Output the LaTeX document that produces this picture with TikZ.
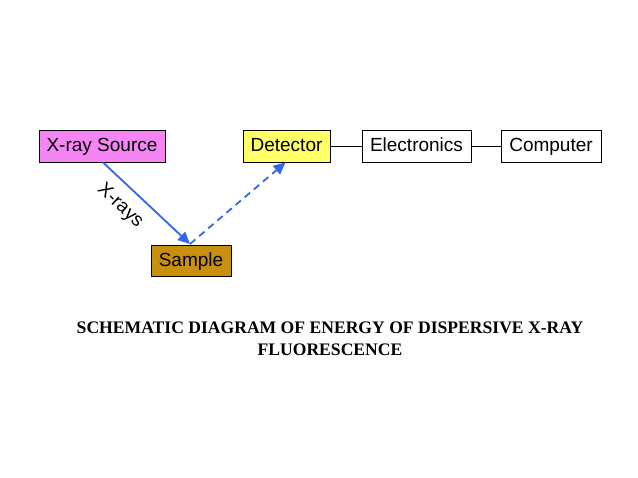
\documentclass[tikz,border=0pt]{standalone}
\usepackage{fontspec}
\setmainfont{Liberation Sans}
\newfontfamily\tnr{Liberation Serif}
\usetikzlibrary{arrows.meta}
\definecolor{pinkbox}{HTML}{F585F5}
\definecolor{yelbox}{HTML}{FFFF66}
\definecolor{ochre}{HTML}{C99010}
\definecolor{ablue}{HTML}{3366EE}
\begin{document}
\begin{tikzpicture}[x=1pt,y=-1pt,
  box/.style={draw=black,line width=0.8pt,minimum height=32pt,inner sep=0pt,text height=15pt,text depth=3pt,font=\fontsize{19}{22}\selectfont},
  ray/.style={ablue,line width=1.8pt,-{Triangle[length=12pt,width=11pt]}}]
\useasboundingbox (0,0) rectangle (638,478);
\node[box,fill=pinkbox,minimum width=126pt] (src) at (102,146) {X-ray Source};
\node[box,fill=yelbox,minimum width=87pt] (det) at (286.5,146) {Detector};
\node[box,fill=white,minimum width=109pt] (ele) at (416.5,146) {Electronics};
\node[box,fill=white,minimum width=100pt] (com) at (551,146) {Computer};
\node[box,fill=ochre,minimum width=80pt,minimum height=31pt] (smp) at (191,260.5) {Sample};
\coordinate (hit) at (190,244);
\draw[ray] (src.south) ++(1,0) -- (hit);
\draw[ray,dash pattern=on 7pt off 5pt] (hit) -- ([xshift=-1pt]det.south);
\draw[line width=0.6pt] (det.east) -- (ele.west);
\draw[line width=0.6pt] (ele.east) -- (com.west);
\node[rotate=-43,font=\fontsize{19}{22}\selectfont] (lbl) at (120,206) {X-rays};
\node[align=center,font=\tnr\bfseries\fontsize{17.6}{22}\selectfont] (title) at (330,339) {SCHEMATIC DIAGRAM OF ENERGY OF DISPERSIVE X-RAY\\FLUORESCENCE};
\end{tikzpicture}
\end{document}
